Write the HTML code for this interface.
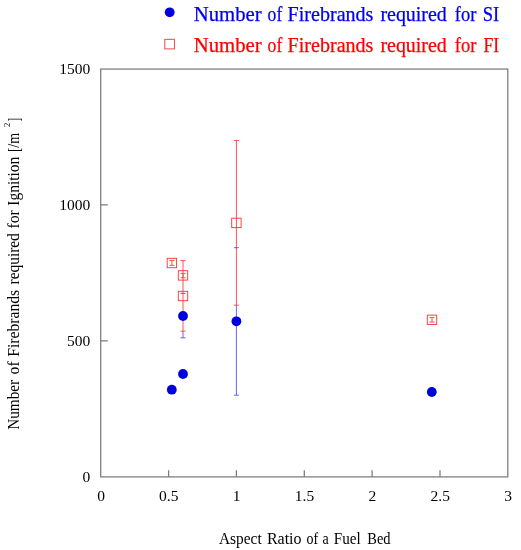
<!DOCTYPE html>
<html><head><meta charset="utf-8">
<style>
html,body{margin:0;padding:0;background:#fff;}
body{width:521px;height:550px;overflow:hidden;}
svg{display:block;}
text{font-family:"Liberation Serif","Times New Roman",serif;}
</style></head><body>
<svg width="521" height="550" viewBox="0 0 521 550">
<rect width="521" height="550" fill="#fff"/>
<!-- legend -->
<circle cx="169.7" cy="12.3" r="4.9" fill="#0000dd"/>
<g font-size="19.9" fill="#0000f0" stroke="#0000f0" stroke-width="0.25">
<text x="193.80" y="20.7" textLength="67.91" lengthAdjust="spacingAndGlyphs">Number</text>
<text x="267.60" y="20.7" textLength="14.67" lengthAdjust="spacingAndGlyphs">of</text>
<text x="287.60" y="20.7" textLength="85.84" lengthAdjust="spacingAndGlyphs">Firebrands</text>
<text x="380.40" y="20.7" textLength="66.45" lengthAdjust="spacingAndGlyphs">required</text>
<text x="454.80" y="20.7" textLength="21.55" lengthAdjust="spacingAndGlyphs">for</text>
<text x="482.67" y="20.7" textLength="16.52" lengthAdjust="spacingAndGlyphs">SI</text>
</g>
<rect x="164.8" y="39.3" width="9.6" height="9.6" fill="none" stroke="#ff3030" stroke-width="0.9"/>
<g font-size="19.9" fill="#ff0000" stroke="#ff0000" stroke-width="0.25">
<text x="193.80" y="51.7" textLength="67.91" lengthAdjust="spacingAndGlyphs">Number</text>
<text x="267.60" y="51.7" textLength="14.67" lengthAdjust="spacingAndGlyphs">of</text>
<text x="287.60" y="51.7" textLength="85.84" lengthAdjust="spacingAndGlyphs">Firebrands</text>
<text x="380.40" y="51.7" textLength="66.45" lengthAdjust="spacingAndGlyphs">required</text>
<text x="454.80" y="51.7" textLength="21.55" lengthAdjust="spacingAndGlyphs">for</text>
<text x="483.60" y="51.7" textLength="15.55" lengthAdjust="spacingAndGlyphs">FI</text>
</g>
<!-- frame -->
<g stroke="#7c7c7c" stroke-width="1.25" fill="none">
<rect x="100.7" y="69.05" width="407.1" height="407.85"/>
<path d="M100.7 340.8H107.8M100.7 204.9H107.8M168.6 476.9V470.3M236.4 476.9V470.3M304.3 476.9V470.3M372.1 476.9V470.3M440 476.9V470.3"/>
</g>
<!-- y tick labels -->
<g font-size="15.5" fill="#000" text-anchor="end">
<text x="90.3" y="74.3">1500</text>
<text x="90.3" y="210.3">1000</text>
<text x="90.3" y="346.3">500</text>
<text x="90.3" y="481.6">0</text>
</g>
<g font-size="15.5" fill="#000" text-anchor="middle">
<text x="101" y="500.8">0</text>
<text x="168.8" y="500.8">0.5</text>
<text x="236.7" y="500.8">1</text>
<text x="304.5" y="500.8">1.5</text>
<text x="372.3" y="500.8">2</text>
<text x="440.2" y="500.8">2.5</text>
<text x="508" y="500.8">3</text>
</g>
<g font-size="16" fill="#000">
<text x="219.00" y="543.5" textLength="42.67" lengthAdjust="spacingAndGlyphs">Aspect</text>
<text x="266.90" y="543.5" textLength="34.60" lengthAdjust="spacingAndGlyphs">Ratio</text>
<text x="306.50" y="543.5" textLength="11.61" lengthAdjust="spacingAndGlyphs">of</text>
<text x="322.60" y="543.5" textLength="6.19" lengthAdjust="spacingAndGlyphs">a</text>
<text x="333.80" y="543.5" textLength="26.88" lengthAdjust="spacingAndGlyphs">Fuel</text>
<text x="367.30" y="543.5" textLength="23.30" lengthAdjust="spacingAndGlyphs">Bed</text>
</g>
<g font-size="16" fill="#000" transform="translate(18.8,429.8) rotate(-90)">
<text x="0.00" y="0" textLength="49.86" lengthAdjust="spacingAndGlyphs">Number</text>
<text x="55.40" y="0" textLength="13.04" lengthAdjust="spacingAndGlyphs">of</text>
<text x="73.00" y="0" textLength="67.02" lengthAdjust="spacingAndGlyphs">Firebrands</text>
<text x="145.40" y="0" textLength="51.20" lengthAdjust="spacingAndGlyphs">required</text>
<text x="201.30" y="0" textLength="18.34" lengthAdjust="spacingAndGlyphs">for</text>
<text x="224.10" y="0" textLength="48.90" lengthAdjust="spacingAndGlyphs">Ignition</text>
<text x="282.10" y="0" textLength="14.72" lengthAdjust="spacingAndGlyphs">/m</text>
</g>
<g font-size="16" fill="#000" transform="translate(18.8,429.8) rotate(-90)">
<text x="278.17" y="1.2" textLength="3.86" lengthAdjust="spacingAndGlyphs">[</text>
<text x="308.40" y="1.2" textLength="3.62" lengthAdjust="spacingAndGlyphs">]</text>
</g>
<text transform="translate(9.8,426.9) rotate(-90)" font-size="8.5" fill="#000" x="300" y="0" id="sup">2</text>
<!-- blue error bars -->
<g stroke="#5555ee" stroke-width="0.9" fill="none">
<path d="M183 331.2V337.8M180.5 337.8H185.5"/>
<path d="M236.4 305.2V395.2M233.9 395.2H238.9"/>
</g>
<!-- red error bars -->
<g stroke="#ff4040" stroke-width="0.9" fill="none">
<path d="M183 260.6V331.2M180.5 260.6H185.5M180.5 331.2H185.5"/>
<path d="M183 273.4V277.8M180.5 273.4H185.5M180.5 277.8H185.5"/>
<path d="M171.9 260.6V265.4M169.4 260.6H174.4M169.4 265.4H174.4"/>
<path d="M236.4 140.5V305.2M233.9 140.5H238.9M233.9 305.2H238.9"/>
<path d="M432 317.6V322M429.5 317.6H434.5M429.5 322H434.5"/>
</g>
<g stroke="#5555ee" stroke-width="0.9" fill="none">
<path d="M180.5 293.4H185.5M233.9 247.7H238.9"/>
</g>
<!-- red squares -->
<g stroke="#ff3030" stroke-width="0.9" fill="none">
<rect x="167.2" y="258.3" width="9.4" height="9.4"/>
<rect x="178.3" y="270.7" width="9.4" height="9.4"/>
<rect x="178.3" y="291.3" width="9.4" height="9.4"/>
<rect x="231.7" y="218.2" width="9.4" height="9.4"/>
<rect x="427.3" y="315.1" width="9.4" height="9.4"/>
</g>
<!-- blue circles -->
<g fill="#0000dd">
<circle cx="171.8" cy="389.7" r="4.9"/>
<circle cx="183" cy="374" r="4.9"/>
<circle cx="183" cy="316" r="4.9"/>
<circle cx="236.4" cy="321.3" r="4.9"/>
<circle cx="431.8" cy="392" r="4.9"/>
</g>
</svg>
</body></html>
